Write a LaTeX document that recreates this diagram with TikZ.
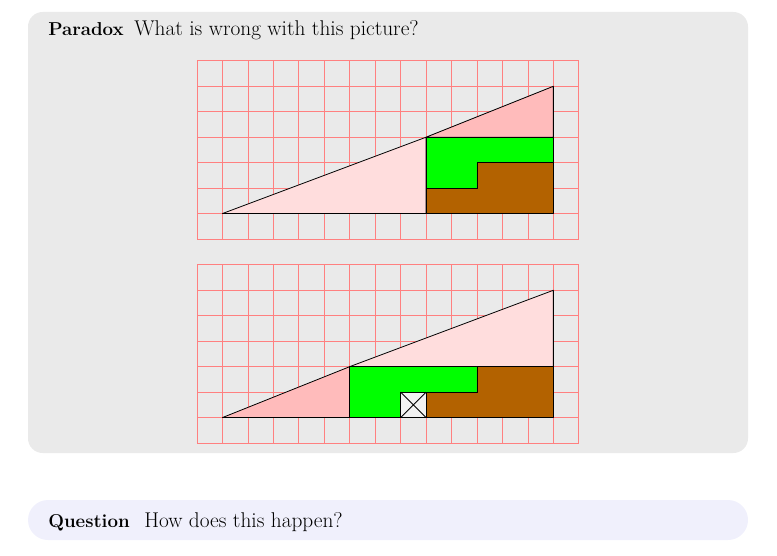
\documentclass[tikz,border=0pt]{standalone}
\usepackage{fontspec}
\usepackage{tikz}
\usepackage{xcolor}
\usetikzlibrary{positioning, calc}

\definecolor{panelgray}{HTML}{EAEAEA}
\definecolor{panelblue}{HTML}{F0F0FC}
\definecolor{lightpink}{HTML}{FFDDDD}
\definecolor{darkpink}{HTML}{FFBBBB}
\definecolor{piecegreen}{HTML}{00FF00}
\definecolor{piecebrown}{HTML}{B36200}
\definecolor{holegray}{HTML}{F2F2F2}

\tikzset{
  gridline/.style={draw=red!50, line width=0.6pt},
  piece/.style={draw=black, line width=0.6pt, line join=round},
  caption/.style={anchor=base west, inner sep=0pt, font=\fontsize{16}{18}\selectfont},
  heading/.style={caption, font=\fontsize{14}{16}\selectfont\bfseries},
}

\begin{document}
\begin{tikzpicture}[x=0.75pt, y=-0.75pt]
                    \useasboundingbox (0,0) rectangle (777,556);
                    \fill[panelgray, rounded corners=11pt] (28,12) rectangle (748,453);
                    \fill[panelblue, rounded corners=15pt] (28,500) rectangle (748,540);

                    \node[heading] (paradox) at (48,36) {Paradox};
                    \node[caption] (wrong) at (134,36) {What is wrong with this picture?};

                    % first arrangement
                    \begin{scope}[shift={(197,239)}, x=19.09pt, y=19.09pt]
                      \draw[gridline, step={(1,1)}] (0,0) grid (15,7);
                      \filldraw[piece, fill=lightpink]  (1,1) -- (9,1) -- (9,4) -- cycle;
                      \filldraw[piece, fill=darkpink]   (9,4) -- (14,4) -- (14,6) -- cycle;
                      \filldraw[piece, fill=piecegreen] (9,4) -- (14,4) -- (14,3) -- (11,3) -- (11,2) -- (9,2) -- cycle;
                      \filldraw[piece, fill=piecebrown] (9,1) -- (14,1) -- (14,3) -- (11,3) -- (11,2) -- (9,2) -- cycle;
                    \end{scope}

                    % second arrangement
                    \begin{scope}[shift={(197,443)}, x=19.09pt, y=19.09pt]
                      \draw[gridline, step={(1,1)}] (0,0) grid (15,7);
                      \filldraw[piece, fill=darkpink]   (1,1) -- (6,1) -- (6,3) -- cycle;
                      \filldraw[piece, fill=lightpink]  (6,3) -- (14,3) -- (14,6) -- cycle;
                      \filldraw[piece, fill=piecegreen] (6,1) -- (6,3) -- (11,3) -- (11,2) -- (8,2) -- (8,1) -- cycle;
                      \filldraw[piece, fill=piecebrown] (9,1) -- (14,1) -- (14,3) -- (11,3) -- (11,2) -- (9,2) -- cycle;
                      \filldraw[piece, fill=holegray]   (8,1) rectangle (9,2);
                      \draw[piece] (8,1) -- (9,2) (8,2) -- (9,1);
                    \end{scope}

                    \node[heading] (question) at (48,527) {Question};
                    \node[caption] (happen) at (144,527) {How does this happen?};
\end{tikzpicture}
\end{document}
